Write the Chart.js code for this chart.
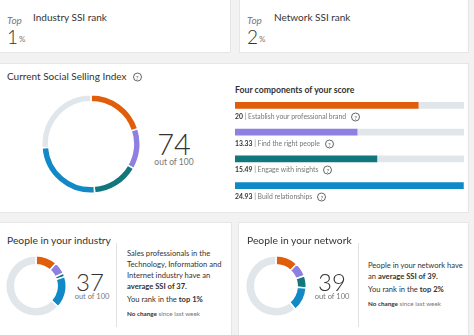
<!DOCTYPE html>
<html>
<head>
<meta charset="utf-8">
<script src="https://cdn.jsdelivr.net/npm/chart.js@4.4.0/dist/chart.umd.min.js"></script>
<style>
  html, body { margin: 0; padding: 0; }
  body {
    width: 474px; height: 335px; overflow: hidden; position: relative;
    background: #f2f2f2; font-family: Lato, "Open Sans", sans-serif; color: #333;
  }
  .card { position: absolute; background: #fff; box-shadow: 0 0 0 1px #e6e6e6; }
  .t { position: absolute; white-space: nowrap; transform: translateY(-50%); line-height: 1; }
  .c { transform: translate(-50%, -50%); }
  .gray { color: #777; }
  .help {
    display: inline-block; width: 7px; height: 7px; border: 1px solid #666; border-radius: 50%;
    font-size: 6px; line-height: 7px; text-align: center; color: #555; vertical-align: middle; margin-left: 3px;
  }
  canvas { position: absolute; }
  .div { position: absolute; width: 1px; background: #e2e2e2; }
</style>
</head>
<body>
<!-- ---------- top cards ---------- -->
<div class="card" style="left:0;top:0;width:230px;height:52px"></div>
<div class="card" style="left:240px;top:0;width:228px;height:52px"></div>
<div class="t gray" style="left:7px;top:20px;font-size:10px;font-style:italic">Top</div>
<div class="t" style="left:33px;top:17px;font-size:10px">Industry SSI rank</div>
<div class="t" style="left:7px;top:36px;font-size:19px;font-weight:300">1</div>
<div class="t gray" style="left:19px;top:39px;font-size:8px">%</div>
<div class="t gray" style="left:247px;top:20px;font-size:10px;font-style:italic">Top</div>
<div class="t" style="left:274px;top:17px;font-size:10px">Network SSI rank</div>
<div class="t" style="left:247px;top:36px;font-size:19px;font-weight:300">2</div>
<div class="t gray" style="left:259px;top:39px;font-size:8px">%</div>

<!-- ---------- main card ---------- -->
<div class="card" style="left:0;top:64px;width:468px;height:148px"></div>
<div class="t" style="left:7px;top:76px;font-size:10px">Current Social Selling Index<span class="help" style="margin-left:6px">?</span></div>
<canvas id="ssiDonut" width="100" height="100" style="left:41px;top:94px"></canvas>
<div class="t c" style="left:174px;top:143px;font-size:29px;font-weight:300">74</div>
<div class="t c gray" style="left:174px;top:162px;font-size:8.5px">out of 100</div>

<div class="t" style="left:235px;top:90px;font-size:8.7px;font-weight:bold">Four components of your score</div>
<canvas id="compBars" width="229" height="107" style="left:235px;top:92px"></canvas>
<div id="barLabels"></div>

<!-- ---------- bottom cards ---------- -->
<div class="card" style="left:0;top:223px;width:231px;height:120px"></div>
<div class="card" style="left:239px;top:223px;width:229px;height:120px"></div>

<div class="t" style="left:7px;top:240px;font-size:10.3px">People in your industry</div>
<canvas id="industryDonut" width="62" height="62" style="left:5px;top:255px"></canvas>
<div class="t c" style="left:90px;top:282px;font-size:24px;font-weight:300">37</div>
<div class="t c gray" style="left:92px;top:297px;font-size:7.5px">out of 100</div>
<div class="div" style="left:116px;top:243px;height:84px"></div>
<div class="t" style="left:127px;top:254px;font-size:7.6px">Sales professionals in the</div>
<div class="t" style="left:127px;top:265px;font-size:7.6px">Technology, Information and</div>
<div class="t" style="left:127px;top:276px;font-size:7.6px">Internet industry have an</div>
<div class="t" style="left:127px;top:287px;font-size:7.6px;font-weight:bold">average SSI of 37.</div>
<div class="t" style="left:127px;top:300px;font-size:7.6px">You rank in the <b>top 1%</b></div>
<div class="t" style="left:127px;top:314px;font-size:6.3px"><b>No change</b> <span class="gray">since last week</span></div>

<div class="t" style="left:247px;top:240px;font-size:10.3px">People in your network</div>
<canvas id="networkDonut" width="62" height="62" style="left:245px;top:255px"></canvas>
<div class="t c" style="left:332px;top:282px;font-size:24px;font-weight:300">39</div>
<div class="t c gray" style="left:332px;top:297px;font-size:7.5px">out of 100</div>
<div class="div" style="left:358px;top:243px;height:84px"></div>
<div class="t" style="left:368px;top:266px;font-size:7.6px">People in your network have</div>
<div class="t" style="left:368px;top:277px;font-size:7.6px">an <b>average SSI of 39.</b></div>
<div class="t" style="left:368px;top:290px;font-size:7.6px">You rank in the <b>top 2%</b></div>
<div class="t" style="left:368px;top:304px;font-size:6.3px"><b>No change</b> <span class="gray">since last week</span></div>

<script>
// ---------- data ----------
const components = ["Establish your professional brand", "Find the right people", "Engage with insights", "Build relationships"];
const yourScores = [20, 13.33, 15.49, 24.93];
const industryScores = [11.5, 6.5, 2, 17];
const networkScores = [12, 7.5, 6.5, 13];
const componentMax = 25;
const ssiMax = 100;

const compColors = ["#e05d0b", "#8e7fe3", "#12777c", "#1189c6"];
const trackColor = "#e1e6eb";

// ---------- donuts ----------
function makeDonut(id, scores, cutout) {
  const total = scores.reduce((a, b) => a + b, 0);
  new Chart(document.getElementById(id), {
    type: "doughnut",
    data: {
      labels: [...components, "Remaining"],
      datasets: [{
        data: [...scores, ssiMax - total],
        backgroundColor: [...compColors, trackColor],
        borderColor: "#fff",
        borderWidth: 1.5
      }]
    },
    options: {
      responsive: false,
      animation: false,
      cutout: cutout,
      plugins: { legend: { display: false }, tooltip: { enabled: false } }
    }
  });
}

makeDonut("ssiDonut", yourScores, "86%");
makeDonut("industryDonut", industryScores, "70%");
makeDonut("networkDonut", networkScores, "70%");

// ---------- component bars ----------
new Chart(document.getElementById("compBars"), {
  type: "bar",
  data: {
    labels: components,
    datasets: [
      { data: yourScores, backgroundColor: compColors, barThickness: 6 },
      { data: yourScores.map(v => componentMax - v), backgroundColor: trackColor, barThickness: 6 }
    ]
  },
  options: {
    indexAxis: "y",
    responsive: false,
    animation: false,
    layout: { padding: 0 },
    scales: {
      x: { stacked: true, min: 0, max: componentMax, display: false },
      y: { stacked: true, display: false }
    },
    plugins: { legend: { display: false }, tooltip: { enabled: false } }
  }
});

// labels under bars
const labelBox = document.getElementById("barLabels");
components.forEach((name, i) => {
  let d = document.createElement("div");
  d.className = "t";
  d.style.left = "235px";
  d.style.top = (117 + i * 26.7) + "px";
  d.style.fontSize = "6.8px";
  d.innerHTML = `<b>${yourScores[i]}</b> <span class="gray">| ${name}</span><span class="help" style="margin-left:5px">?</span>`;
  labelBox.appendChild(d);
});
</script>
</body>
</html>
